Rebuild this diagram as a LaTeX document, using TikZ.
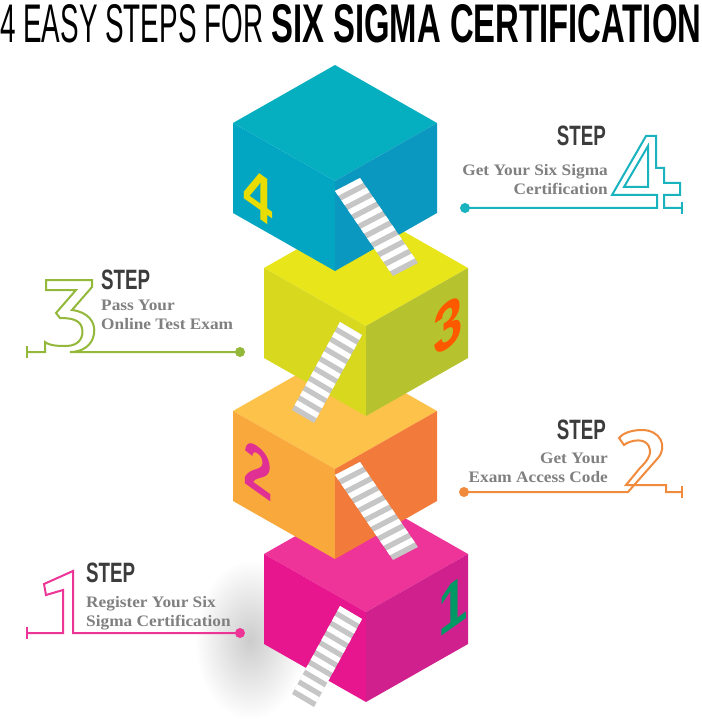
\documentclass[tikz,border=0pt]{standalone}
\usepackage{fontspec}
\usepackage{graphicx}
\setmainfont{Liberation Serif}
\newfontfamily\sansf{Liberation Sans}
\usetikzlibrary{calc}
\definecolor{cA}{HTML}{EC3596}\definecolor{cB}{HTML}{F08A3C}
\definecolor{cC}{HTML}{93B83A}\definecolor{cD}{HTML}{19B3C0}
\definecolor{txtg}{HTML}{808080}\definecolor{stepg}{HTML}{3C3C3C}
\definecolor{otop}{HTML}{FDC24A}\definecolor{oleft}{HTML}{F9A83C}\definecolor{oright}{HTML}{F27A3A}
\definecolor{ytop}{HTML}{E8E61A}\definecolor{yleft}{HTML}{D8D91E}\definecolor{yright}{HTML}{B6C22E}
\definecolor{mtop}{HTML}{EE3399}\definecolor{mleft}{HTML}{E8168E}\definecolor{mright}{HTML}{D0208E}
\definecolor{ctop}{HTML}{06AFC0}\definecolor{cleft}{HTML}{02A6C2}\definecolor{cright}{HTML}{0A98C0}
\tikzset{
 stepword/.style={font=\sansf\bfseries\fontsize{28}{28}\selectfont,text=stepg,inner sep=0pt,xscale=0.67},
 body/.style={font=\bfseries\fontsize{16}{19}\selectfont,text=txtg,inner sep=0pt,xscale=1.08},
 lead/.style={line width=2pt,line join=miter},
 facenum/.style={font=\sansf\bfseries\fontsize{66}{66}\selectfont,inner sep=0pt,xscale=0.8},
 stairside/.style={fill=gray!45},
}
\newcommand\cubeat[5]{%
 \fill[#3] (#1,#2) -- ++(-102,-58) -- ++(102,-58) -- ++(102,58) -- cycle;
 \fill[#4] (#1,#2) -- ++(-102,-58) -- ++(0,90) -- ++(102,58) -- cycle;
 \fill[#5] (#1,#2) -- ++(102,-58) -- ++(0,90) -- ++(-102,58) -- cycle;}
\newcommand\stairs[7]{%
 \fill[stairside] (#1,#2) -- ($(#1,#2)+(#3,#4)$) -- ($(#1,#2)+(#3,#4)+(#5,#6)$) -- ($(#1,#2)+(#5,#6)$) -- cycle;
 \foreach \i in {1,...,#7}{%
  \pgfmathsetmacro\ta{(\i-1)/#7}\pgfmathsetmacro\tb{(\i-0.5)/#7}%
  \fill[white] ($(#1,#2)+\ta*(#5,#6)$) -- ($(#1,#2)+(#3,#4)+\ta*(#5,#6)$) -- ($(#1,#2)+(#3,#4)+\tb*(#5,#6)$) -- ($(#1,#2)+\tb*(#5,#6)$) -- cycle;}}
\begin{document}
\begin{tikzpicture}[x=1pt,y=-1pt]
\useasboundingbox (0,0) rectangle (701,719);
\fill[white] (0,0) rectangle (701,719);
% title
\node[anchor=north west,inner sep=0pt] (t1) at (0,4) {\resizebox{263pt}{38pt}{\sansf 4 EASY STEPS FOR}};
\node[anchor=north west,inner sep=0pt] (t2) at (271,4) {\resizebox{430pt}{38pt}{\sansf\bfseries SIX SIGMA CERTIFICATION}};
% shadow
\shade[inner color=gray!40,outer color=white] (250,640) ellipse (55 and 80);
% cubes
\cubeat{366}{612}{mtop}{mleft}{mright}
\stairs{362}{619}{-22}{-13}{-48}{88}{9}
\node[facenum,text=teal!80!green,yslant=0.57] (n1) at (453,605) {1};
\cubeat{335}{469}{otop}{oleft}{oright}
\stairs{335}{475}{25}{-13}{58}{85}{9}
\node[facenum,text=cA!90!violet,yslant=-0.57] (n2) at (258,470) {2};
\cubeat{366}{326}{ytop}{yleft}{yright}
\stairs{362}{335}{-22}{-13}{-48}{88}{9}
\node[facenum,text=orange!70!red,yslant=0.57] (n3) at (448,325) {3};
\cubeat{335}{181}{ctop}{cleft}{cright}
\stairs{335}{191}{25}{-13}{58}{85}{9}
\node[facenum,text=yellow!80!olive,yslant=-0.57] (n4) at (258,195) {4};
% step 1
\node[stepword,anchor=south west] (s1) at (86,583) {STEP};
\node[body,anchor=north west,align=left] (b1) at (86,596) {Register Your Six\\Sigma Certification};
\coordinate (s1a) at (27,633); \coordinate (s1b) at (240,633);
\draw[lead,cA] (27,627) -- (27,639);
\draw[lead,cA] (s1a) -- (63,633) -- (63,590) -- (46,595) -- (44,584) -- (73,571) -- (73,633) -- (s1b);
\fill[cA] (s1b) circle (5);
% step 2
\node[stepword,anchor=south east] (s2) at (606,440) {STEP};
\node[body,anchor=north east,align=right] (b2) at (608,453) {Get Your\\Exam Access Code};
\coordinate (s2a) at (464,492); \coordinate (s2b) at (682,492);
\fill[cB] (s2a) circle (5);
\draw[lead,cB] (682,486) -- (682,498);
\draw[lead,cB] (s2a) -- (628,492) -- (658,458) .. controls (668,446) and (660,430) .. (642,430) .. controls (630,430) and (622,434) .. (619,438) -- (624,445) .. controls (630,440) and (648,436) .. (650,450) .. controls (651,456) and (646,462) .. (640,468) -- (626,485) -- (666,485) -- (666,492) -- (s2b);
% step 3
\node[stepword,anchor=south west] (s3) at (101,290) {STEP};
\node[body,anchor=north west,align=left] (b3) at (101,300) {Pass Your\\Online Test Exam};
\coordinate (s3a) at (27,352); \coordinate (s3b) at (240,352);
\draw[lead,cC] (27,346) -- (27,358);
\draw[lead,cC] (s3a) -- (45,352) -- (45,342) .. controls (50,346) and (60,346) .. (66,346) .. controls (80,346) and (84,336) .. (82,328) .. controls (80,320) and (72,318) .. (60,318) -- (56,313) -- (76,290) -- (46,290) -- (46,280) -- (92,280) -- (92,287) -- (72,310) .. controls (88,312) and (96,322) .. (94,334) .. controls (92,346) and (82,352) .. (70,352) -- (s3b);
\fill[cC] (s3b) circle (5);
% step 4
\node[stepword,anchor=south east] (s4) at (606,146) {STEP};
\node[body,anchor=north east,align=right] (b4) at (608,164) {Get Your Six Sigma\\Certification};
\coordinate (s4a) at (465,208); \coordinate (s4b) at (682,208);
\fill[cD] (s4a) circle (5);
\draw[lead,cD] (682,202) -- (682,214);
\draw[lead,cD] (s4a) -- (657,208) -- (657,195) -- (612,195) -- (646,136) -- (656,136) -- (656,168) -- (664,168) -- (664,183) -- (680,183) -- (680,195) -- (664,195) -- (664,208) -- (s4b);
\draw[lead,cD] (624,187) -- (648,146) -- (648,187) -- cycle;
\end{tikzpicture}
\end{document}
